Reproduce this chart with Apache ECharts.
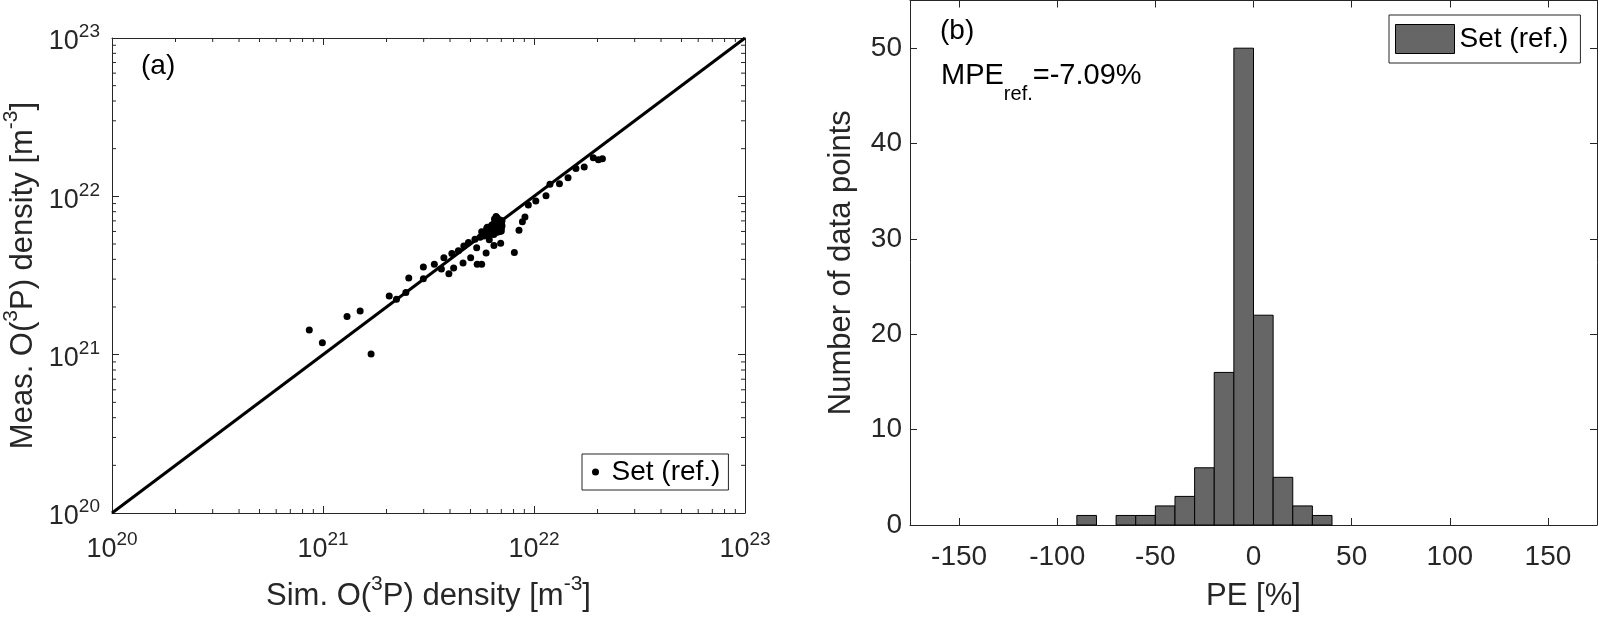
<!DOCTYPE html>
<html>
<head>
<meta charset="utf-8">
<title>O(3P) density comparison</title>
<script src="https://cdn.jsdelivr.net/npm/echarts@6/dist/echarts.min.js"></script>
<style>
  html, body { margin: 0; padding: 0; background: #fff; }
  #chart { width: 1600px; height: 617px; }
</style>
</head>
<body>
<div id="chart"></div>
<script>
// (a) simulated vs measured O(3P) density, m^-3
const simDensity = [
  8.61e20, 9.93e20, 1.30e21, 1.50e21, 1.69e21, 2.06e21, 2.23e21, 2.47e21, 2.55e21, 2.99e21,
  2.99e21, 3.37e21, 3.64e21, 3.74e21, 3.95e21, 4.08e21, 4.16e21, 4.38e21, 4.61e21, 4.65e21,
  4.89e21, 5.01e21, 5.25e21, 5.35e21, 5.38e21, 5.65e21, 5.55e21, 5.65e21, 5.79e21, 5.93e21,
  6.01e21, 6.14e21, 6.31e21, 6.41e21, 6.46e21, 6.53e21, 6.61e21, 6.65e21, 6.78e21, 6.90e21,
  6.95e21, 6.95e21, 7.03e21, 6.18e21, 5.97e21, 8.07e21, 8.49e21, 8.81e21, 9.06e21, 9.40e21,
  1.02e22, 1.14e22, 1.19e22, 1.32e22, 1.45e22, 1.58e22, 1.73e22, 1.91e22, 2.02e22, 2.11e22,
  6.05e21, 6.10e21, 6.20e21, 6.25e21, 6.30e21, 6.35e21, 6.40e21, 6.45e21, 6.50e21, 6.50e21,
  6.55e21, 6.60e21, 6.60e21, 6.65e21, 6.70e21, 6.70e21, 6.75e21, 6.80e21, 6.80e21, 6.85e21,
  6.90e21, 6.90e21, 6.95e21, 7.00e21, 7.00e21, 7.05e21, 7.05e21, 6.30e21, 6.45e21, 6.60e21,
  6.75e21, 6.90e21, 7.00e21, 6.15e21, 6.40e21, 6.55e21, 6.70e21, 6.85e21, 6.95e21, 6.60e21,
  6.50e21, 6.70e21, 6.20e21, 6.00e21, 5.85e21
];
const measDensity = [
  1.43e21, 1.19e21, 1.74e21, 1.89e21, 1.01e21, 2.35e21, 2.24e21, 2.47e21, 3.05e21, 3.58e21,
  3.02e21, 3.72e21, 3.48e21, 4.10e21, 3.24e21, 4.35e21, 3.53e21, 4.54e21, 3.79e21, 4.86e21,
  5.11e21, 4.10e21, 5.36e21, 4.74e21, 3.72e21, 3.72e21, 5.52e21, 5.98e21, 5.62e21, 4.38e21,
  6.38e21, 5.31e21, 6.59e21, 6.14e21, 4.89e21, 6.92e21, 7.45e21, 6.44e21, 6.76e21, 7.10e21,
  6.14e21, 5.06e21, 6.59e21, 5.85e21, 6.28e21, 4.42e21, 6.11e21, 6.92e21, 7.41e21, 8.83e21,
  9.35e21, 1.01e22, 1.19e22, 1.20e22, 1.31e22, 1.50e22, 1.53e22, 1.75e22, 1.70e22, 1.73e22,
  6.20e21, 5.90e21, 6.30e21, 6.00e21, 6.45e21, 6.10e21, 6.60e21, 6.30e21, 6.00e21, 6.75e21,
  6.45e21, 6.20e21, 6.90e21, 6.60e21, 6.30e21, 7.00e21, 6.50e21, 6.15e21, 6.85e21, 6.40e21,
  6.65e21, 6.00e21, 6.90e21, 6.30e21, 6.75e21, 6.50e21, 7.00e21, 5.85e21, 5.75e21, 5.90e21,
  5.95e21, 6.20e21, 6.05e21, 6.05e21, 6.00e21, 6.15e21, 6.60e21, 6.55e21, 6.45e21, 7.10e21,
  7.20e21, 7.30e21, 5.75e21, 5.70e21, 5.65e21
];
const densityMin = 1e20;
const densityMax = 1e23;
const minorMantissas = [2, 3, 4, 5, 6, 7, 8, 9];
const decades = [1e20, 1e21, 1e22];

// (b) histogram of percentage error
const binStarts = [-90, -70, -60, -50, -40, -30, -20, -10, 0, 10, 20, 30];
const binCounts = [1, 1, 1, 2, 3, 6, 16, 50, 22, 5, 2, 1];
const binWidth = 10;
const peMin = -175;
const peMax = 175;
const countMax = 55;
const mpeText = '=-7.09%';

const FONT = '"Liberation Sans", Arial, Helvetica, sans-serif';
const AX = '#262626';

const chart = echarts.init(document.getElementById('chart'), null, { renderer: 'canvas' });

const scatterData = simDensity.map((s, i) => [s, measDensity[i]]);
const minorTicks = [];
decades.forEach(d => minorMantissas.forEach(m => minorTicks.push(m * d)));
const histData = binStarts.map((s, i) => [s, s + binWidth, binCounts[i]]);

const powRich = {
  b: { fontSize: 27, fontFamily: FONT, color: AX, padding: [8, 0, 0, 0] },
  e: { fontSize: 19, fontFamily: FONT, color: AX, padding: [0, 0, 12, 0] }
};
const powLabel = v => '{b|10}{e|' + Math.round(Math.log10(v)) + '}';

const nameRich = {
  t: { fontSize: 31, fontFamily: FONT, color: AX, padding: [10, 0, 0, 0] },
  s: { fontSize: 21, fontFamily: FONT, color: AX, padding: [0, 0, 14, 0] }
};

function logAxis(pos, idx, extra) {
  return Object.assign({
    type: 'log', logBase: 10, gridIndex: idx, position: pos,
    min: densityMin, max: densityMax,
    axisLine: { show: true, lineStyle: { color: AX, width: 1 } },
    axisTick: { show: true, inside: true, length: 7, lineStyle: { color: AX } },
    splitLine: { show: false },
    axisLabel: { show: false }
  }, extra);
}
function valAxis(pos, idx, extra) {
  return Object.assign({
    type: 'value', gridIndex: idx, position: pos,
    axisLine: { show: true, onZero: false, lineStyle: { color: AX, width: 1 } },
    axisTick: { show: true, inside: true, length: 7, lineStyle: { color: AX } },
    splitLine: { show: false },
    axisLabel: { show: false }
  }, extra);
}

chart.setOption({
  animation: false,
  backgroundColor: '#fff',
  textStyle: { fontFamily: FONT },
  grid: [
    { left: 112, top: 38, width: 633, height: 475 },
    { left: 910, top: 0.5, width: 687, height: 525 }
  ],
  title: [
    { text: '(a)', left: 141, top: 52, padding: 0,
      textStyle: { fontSize: 28, fontWeight: 'normal', color: '#000', fontFamily: FONT, lineHeight: 28 } },
    { text: '(b)', left: 940, top: 17, padding: 0,
      textStyle: { fontSize: 28, fontWeight: 'normal', color: '#000', fontFamily: FONT, lineHeight: 28 } },
    { text: '{n|MPE}{s|ref.}{n|' + mpeText + '}', left: 941, top: 48, padding: 0,
      textStyle: { fontWeight: 'normal', rich: {
        n: { fontSize: 29, fontWeight: 'normal', fontFamily: FONT, color: '#000' },
        s: { fontSize: 20, fontWeight: 'normal', fontFamily: FONT, color: '#000', padding: [36, 0, 0, 0] }
      } } }
  ],
  legend: [
    { left: 582, top: 454, orient: 'vertical', selectedMode: false,
      backgroundColor: '#fff', borderColor: AX, borderWidth: 1,
      padding: [4, 8, 4, 10], itemWidth: 16, itemHeight: 7,
      textStyle: { fontSize: 28, color: '#000', fontFamily: FONT, lineHeight: 27, padding: [0, 0, 0, 3] },
      data: [{ name: 'Set (ref.)', icon: 'circle', itemStyle: { color: '#000', borderWidth: 0 } }] },
    { left: 1389, top: 15, orient: 'vertical', selectedMode: false,
      backgroundColor: '#fff', borderColor: AX, borderWidth: 1,
      padding: [9, 12, 9, 6], itemWidth: 59, itemHeight: 29,
      textStyle: { fontSize: 28, color: '#000', fontFamily: FONT, lineHeight: 29 },
      data: [{ name: 'Set (ref.)', icon: 'rect', itemStyle: { color: '#666666', borderColor: '#000', borderWidth: 1 } }] }
  ],
  xAxis: [
    logAxis('bottom', 0, {
      axisLabel: { show: true, margin: 15, formatter: powLabel, rich: powRich },
      name: '{t|Sim. O(}{s|3}{t|P) density [m}{s|-3}{t|]}',
      nameLocation: 'middle', nameGap: 58,
      nameTextStyle: { rich: nameRich }
    }),
    logAxis('top', 0, {}),
    valAxis('bottom', 1, {
      min: peMin, max: peMax, splitNumber: 7,
      axisLabel: { show: true, margin: 18, fontSize: 28, color: AX, fontFamily: FONT,
        showMinLabel: false, showMaxLabel: false },
      name: 'PE [%]', nameLocation: 'middle', nameGap: 56,
      nameTextStyle: { fontSize: 31, color: AX, fontFamily: FONT }
    }),
    valAxis('top', 1, { min: peMin, max: peMax, splitNumber: 7 })
  ],
  yAxis: [
    logAxis('left', 0, {
      axisLabel: { show: true, margin: 12, formatter: powLabel, rich: powRich },
      name: '{t|Meas. O(}{s|3}{t|P) density [m}{s|-3}{t|]}',
      nameLocation: 'middle', nameGap: 73, nameRotate: 90,
      nameTextStyle: { rich: nameRich }
    }),
    logAxis('right', 0, {}),
    valAxis('left', 1, {
      min: 0, max: countMax, interval: 10,
      axisLabel: { show: true, margin: 8, fontSize: 28, color: AX, fontFamily: FONT, showMaxLabel: false },
      name: 'Number of data points', nameLocation: 'middle', nameGap: 53, nameRotate: 90,
      nameTextStyle: { fontSize: 31, color: AX, fontFamily: FONT }
    }),
    valAxis('right', 1, { min: 0, max: countMax, interval: 10 })
  ],
  series: [
    {
      name: 'Set (ref.)', type: 'scatter', xAxisIndex: 0, yAxisIndex: 0,
      symbol: 'circle', symbolSize: 7, z: 4,
      itemStyle: { color: '#000', opacity: 1 },
      data: scatterData
    },
    {
      name: 'parity', type: 'line', xAxisIndex: 0, yAxisIndex: 0,
      symbol: 'none', z: 3,
      lineStyle: { color: '#000', width: 3 },
      data: [[densityMin, densityMin], [densityMax, densityMax]]
    },
    {
      name: 'minorX', type: 'custom', xAxisIndex: 0, yAxisIndex: 0, silent: true, z: 5,
      data: minorTicks.map(v => [v, densityMin]),
      renderItem(params, api) {
        const cs = params.coordSys;
        const x = api.coord([api.value(0), densityMin])[0];
        const st = { stroke: AX, lineWidth: 1 };
        return { type: 'group', children: [
          { type: 'line', shape: { x1: x, y1: cs.y + cs.height, x2: x, y2: cs.y + cs.height - 4 }, style: st },
          { type: 'line', shape: { x1: x, y1: cs.y, x2: x, y2: cs.y + 4 }, style: st }
        ] };
      }
    },
    {
      name: 'minorY', type: 'custom', xAxisIndex: 0, yAxisIndex: 0, silent: true, z: 5,
      data: minorTicks.map(v => [densityMin, v]),
      renderItem(params, api) {
        const cs = params.coordSys;
        const y = api.coord([densityMin, api.value(1)])[1];
        const st = { stroke: AX, lineWidth: 1 };
        return { type: 'group', children: [
          { type: 'line', shape: { x1: cs.x, y1: y, x2: cs.x + 4, y2: y }, style: st },
          { type: 'line', shape: { x1: cs.x + cs.width, y1: y, x2: cs.x + cs.width - 4, y2: y }, style: st }
        ] };
      }
    },
    {
      name: 'Set (ref.)', type: 'custom', xAxisIndex: 2, yAxisIndex: 2, z: 2,
      itemStyle: { color: '#666666', borderColor: '#000', borderWidth: 1 },
      encode: { x: [0, 1], y: 2 },
      data: histData,
      renderItem(params, api) {
        const top = api.coord([api.value(0), api.value(2)]);
        const bot = api.coord([api.value(1), 0]);
        return {
          type: 'rect',
          shape: { x: top[0], y: top[1], width: bot[0] - top[0], height: bot[1] - top[1] },
          style: { fill: '#666666', stroke: '#000', lineWidth: 1 }
        };
      }
    }
  ]
});
</script>
</body>
</html>
